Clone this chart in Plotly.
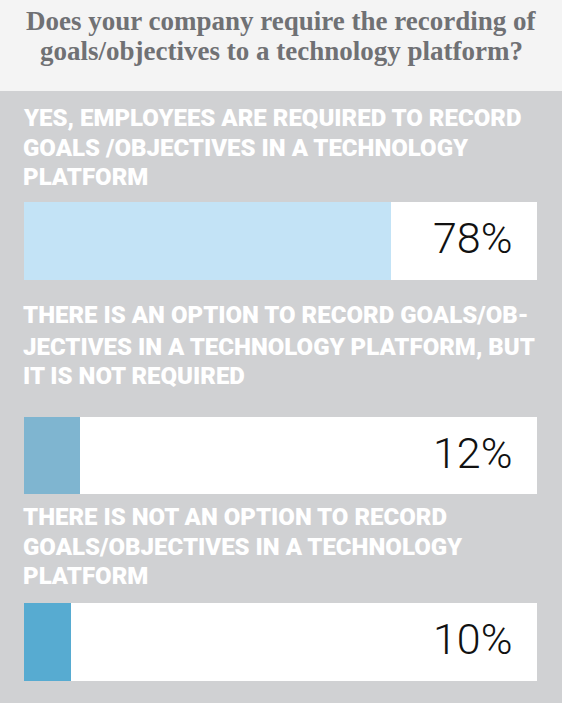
import sys

import plotly.graph_objects as go
from plotly.subplots import make_subplots

title_lines = [
    'Does your company require the recording of',
    'goals/objectives to a technology platform?',
]
categories = [
    ['YES, EMPLOYEES ARE REQUIRED TO RECORD',
     'GOALS /OBJECTIVES IN A TECHNOLOGY',
     'PLATFORM'],
    ['THERE IS AN OPTION TO RECORD GOALS/OB-',
     'JECTIVES IN A TECHNOLOGY PLATFORM, BUT',
     'IT IS NOT REQUIRED'],
    ['THERE IS NOT AN OPTION TO RECORD',
     'GOALS/OBJECTIVES IN A TECHNOLOGY',
     'PLATFORM'],
]
values = [78, 12, 10]
value_labels = ['78%', '12%', '10%']
bar_colors = ['#c3e3f6', '#7fb5d0', '#57abd1']


def main():
    W, H = 562, 706
    track_max = 109

    # pixel layout of the original graphic
    bar_rows = [(202, 280), (417, 494), (603, 681)]
    label_centers = [(118, 148, 177), (315, 347, 376), (517, 547, 576)]
    x0, x1 = 24, 537

    def py(px):
        return 1 - px / H

    fig = make_subplots(rows=3, cols=1)
    for i, (v, c) in enumerate(zip(values, bar_colors)):
        # white track, then the filled part on top
        fig.add_trace(
            go.Bar(x=[track_max], y=[0], orientation='h', width=1,
                   marker=dict(color='white', line=dict(width=0)),
                   hoverinfo='skip', showlegend=False),
            row=i + 1, col=1)
        fig.add_trace(
            go.Bar(x=[v], y=[0], orientation='h', width=1,
                   marker=dict(color=c, line=dict(width=0)),
                   hoverinfo='skip', showlegend=False),
            row=i + 1, col=1)
        top, bottom = bar_rows[i]
        n = '' if i == 0 else str(i + 1)
        fig.layout['xaxis' + n].update(
            domain=[x0 / W, x1 / W], range=[0, track_max], visible=False,
            fixedrange=True)
        fig.layout['yaxis' + n].update(
            domain=[py(bottom), py(top)], range=[-0.5, 0.5], visible=False,
            fixedrange=True)

    shapes = [
        dict(type='rect', xref='paper', yref='paper', x0=0, x1=1,
             y0=py(91), y1=1, fillcolor='#f4f4f4', line_width=0,
             layer='below'),
        dict(type='rect', xref='paper', yref='paper', x0=0, x1=1,
             y0=py(703), y1=py(91), fillcolor='#d0d1d3', line_width=0,
             layer='below'),
    ]

    annotations = []
    for line, cy in zip(title_lines, (21, 51)):
        annotations.append(dict(
            text='<b>%s</b>' % line, x=281 / W, y=py(cy), xref='paper',
            yref='paper', xanchor='center', yanchor='middle',
            showarrow=False,
            font=dict(family='Liberation Serif, DejaVu Serif, serif',
                      size=27, color='#707174')))

    for lines, centers in zip(categories, label_centers):
        for line, cy in zip(lines, centers):
            annotations.append(dict(
                text=line, x=(x0 - 3) / W, y=py(cy),
                xref='paper', yref='paper', xanchor='left',
                yanchor='middle', showarrow=False,
                font=dict(family='Roboto, sans-serif', size=24,
                          color='white', weight=900)))

    for i, lab in enumerate(value_labels):
        n = '' if i == 0 else str(i + 1)
        annotations.append(dict(
            text=lab, x=1, y=0.5, xref='x%s domain' % n,
            yref='y%s domain' % n, xanchor='right', yanchor='middle',
            xshift=-22, yshift=3, showarrow=False,
            font=dict(family='Roboto, Lato, sans-serif', size=43,
                      color='#111111', weight=300)))

    fig.update_layout(
        width=W, height=H,
        margin=dict(l=0, r=0, t=0, b=0),
        paper_bgcolor='white', plot_bgcolor='white',
        barmode='overlay', bargap=0,
        shapes=shapes, annotations=annotations,
        showlegend=False)

    fig.write_html('out.html', config={'displayModeBar': False},
                   post_script="document.body.style.margin = '0';")
    return 0


if __name__ == '__main__':
    sys.exit(main())
